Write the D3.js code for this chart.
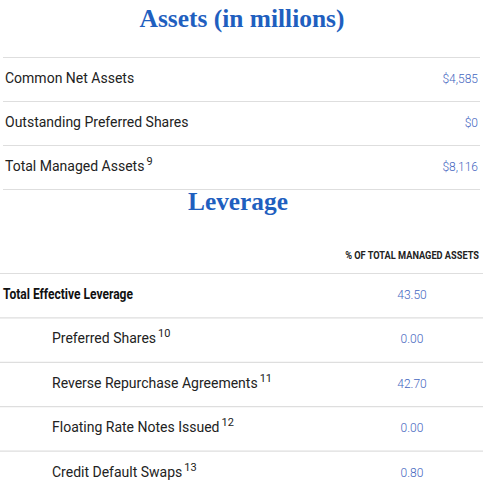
<!DOCTYPE html>
<html><head><meta charset="utf-8">
<script src="https://cdn.jsdelivr.net/npm/d3@7"></script>
<style>body{margin:0;background:#fff}svg{display:block}</style>
</head><body>
<script>
const assetLabels = ["Common Net Assets", "Outstanding Preferred Shares", "Total Managed Assets"];
const assetNotes = ["", "", "9"];
const assetValues = ["$4,585", "$0", "$8,116"];
const levLabels = ["Total Effective Leverage", "Preferred Shares", "Reverse Repurchase Agreements", "Floating Rate Notes Issued", "Credit Default Swaps"];
const levNotes = ["", "10", "11", "12", "13"];
const levValues = [43.50, 0.00, 42.70, 0.00, 0.80];
const levHeader = "% OF TOTAL MANAGED ASSETS";

const W = 483, H = 482;
const svg = d3.select("body").append("svg").attr("width", W).attr("height", H);
const titleColor = "#1f5fbf", valColor = "#4466c0", lineColor = "#dedede", txt = "#222";

// Assets section
svg.append("text").attr("x", 242).attr("y", 27).attr("text-anchor", "middle")
  .attr("font-family", "Liberation Serif").attr("font-weight", "bold").attr("font-size", 26)
  .attr("fill", titleColor).attr("textLength", 205).attr("lengthAdjust", "spacingAndGlyphs")
  .text("Assets (in millions)");

const yA = d3.scaleBand().domain(d3.range(assetLabels.length)).range([57, 189]);
const gA = svg.append("g");
d3.range(assetLabels.length + 1).forEach(i => {
  const y = i < assetLabels.length ? yA(i) : yA.range()[1];
  gA.append("line").attr("x1", 3).attr("x2", 480).attr("y1", y + 0.5).attr("y2", y + 0.5)
    .attr("stroke", lineColor).attr("stroke-width", 1.2);
});
const rowsA = gA.selectAll("g.r").data(assetLabels).join("g").attr("class", "r")
  .attr("transform", (d, i) => `translate(0,${yA(i) + 26})`);
rowsA.append("text").attr("x", 5).attr("font-family", "Roboto").attr("font-size", 14).attr("fill", txt)
  .text(d => d).each(function(d, i) {
    if (assetNotes[i]) {
      const w = this.getComputedTextLength();
      d3.select(this.parentNode).append("text").attr("x", 5 + w + 2).attr("y", -6)
        .attr("font-family", "Roboto").attr("font-size", 11).attr("fill", txt).text(assetNotes[i]);
    }
  });
rowsA.append("text").attr("x", 478).attr("text-anchor", "end").attr("font-family", "Roboto")
  .attr("font-weight", 300).attr("font-size", 12).attr("fill", valColor).text((d, i) => assetValues[i]);

// Leverage section
svg.append("text").attr("x", 238).attr("y", 210).attr("text-anchor", "middle")
  .attr("font-family", "Liberation Serif").attr("font-weight", "bold").attr("font-size", 26)
  .attr("fill", titleColor).attr("textLength", 100).attr("lengthAdjust", "spacingAndGlyphs")
  .text("Leverage");

// condensed-looking header: fit width naturally, then stretch vertically
function condensed(sel, x, y, targetW, baseSize, scaleY) {
  const t = sel.append("text").attr("font-family", "Roboto").attr("font-weight", "bold")
    .attr("font-size", baseSize);
  return t;
}
const hdr = svg.append("text").attr("font-family", "Roboto").attr("font-weight", "bold")
  .attr("font-size", 10).attr("fill", "#222").text(levHeader);
const hw = hdr.node().getComputedTextLength();
const hs = 10 * 134 / hw;
hdr.attr("font-size", hs).attr("text-anchor", "end")
  .attr("transform", `translate(479,259) scale(1,${10.5 / hs})`);

const yL = d3.scaleBand().domain(d3.range(levLabels.length)).range([273, 495]);
const fmt = d3.format(".2f");
const gL = svg.append("g");
d3.range(levLabels.length).forEach(i => {
  gL.append("line").attr("x1", 0).attr("x2", W).attr("y1", yL(i) + 0.5).attr("y2", yL(i) + 0.5)
    .attr("stroke", lineColor).attr("stroke-width", 1.2);
});
const rowsL = gL.selectAll("g.r").data(levLabels).join("g").attr("class", "r")
  .attr("transform", (d, i) => `translate(0,${yL(i) + 26})`);
rowsL.each(function(d, i) {
  const g = d3.select(this);
  if (i === 0) {
    g.append("text").attr("x", 3).attr("font-family", "Roboto").attr("font-weight", "bold")
      .attr("font-size", 14).attr("fill", "#111").attr("textLength", 130).attr("lengthAdjust", "spacingAndGlyphs").text(d);
  } else {
    const t = g.append("text").attr("x", 52).attr("font-family", "Roboto").attr("font-size", 14).attr("fill", txt).text(d);
    const w = t.node().getComputedTextLength();
    g.append("text").attr("x", 52 + w + 2).attr("y", -6).attr("font-family", "Roboto")
      .attr("font-size", 11).attr("fill", txt).text(levNotes[i]);
  }
  g.append("text").attr("x", 412).attr("text-anchor", "middle").attr("font-family", "Roboto")
    .attr("font-weight", 300).attr("font-size", 12).attr("fill", valColor).text(fmt(levValues[i]));
});
</script>
</body></html>
